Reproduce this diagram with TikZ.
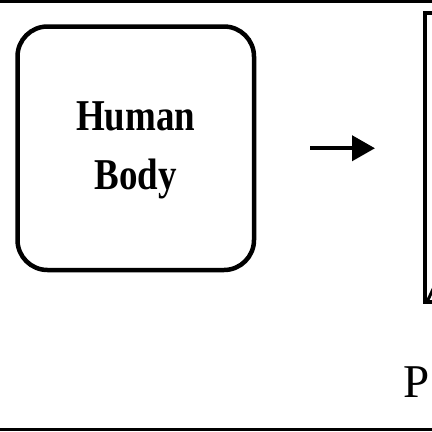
\documentclass[tikz,border=0pt]{standalone}
\usepackage{fontspec}
\setmainfont{Liberation Serif}
\newfontfamily\boxfont{Liberation Serif}[FakeStretch=0.84]
\usetikzlibrary{arrows.meta,calc}
\begin{document}
\begin{tikzpicture}[x=1pt,y=-1pt,
    block/.style={draw,line width=4.5pt,rounded corners=30pt,outer sep=0pt,
      minimum width=236.5pt,minimum height=243.5pt,align=center,text depth=5pt,
      font=\boxfont\bfseries\fontsize{44}{59}\selectfont},
    panel/.style={draw,line width=3.5pt,outer sep=0pt,
      minimum width=200pt,minimum height=289pt},
    flow/.style={line width=4pt,-{Triangle[length=23pt,width=25pt]}}]
  \useasboundingbox (0,0) rectangle (432,432);
  \clip (0,0) rectangle (432,432);
  \fill[white] (0,0) rectangle (432,432);
  \draw[line width=3.3pt] (-5,1.7) -- (440,1.7);
  \draw[line width=3pt] (-5,429.5) -- (440,429.5);
  \draw
    (135.75,148.25) node[block] (body){Human\\Body}
    (525,157.5) node[panel] (sensor){}
    (403,397) node[anchor=base west,inner sep=0pt,
      font=\fontsize{47}{50}\selectfont] (caption){P};
  \draw[line width=3pt] (427.5,301) -- (434,287);
  \begin{scope}[flow]
    \draw[shorten <=56pt,shorten >=50pt] (body.east) -- (body.east -| sensor.west);
  \end{scope}
\end{tikzpicture}
\end{document}
